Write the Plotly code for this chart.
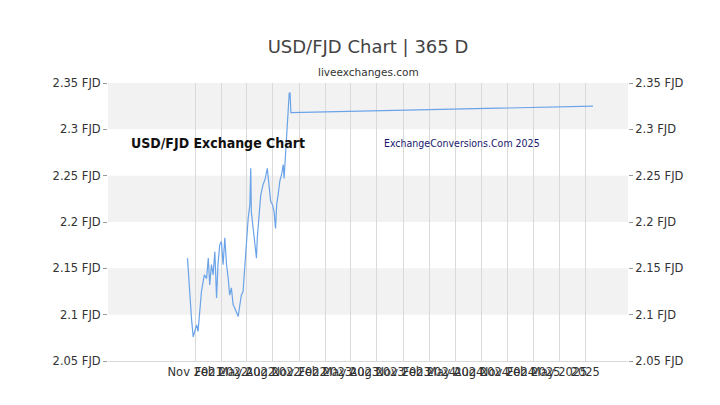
import plotly.graph_objects as go

dates = ["2021-10-05", "2021-10-13", "2021-10-19", "2021-10-25", "2021-11-06", "2021-11-11",
         "2021-11-17", "2021-11-23", "2021-12-03", "2021-12-11", "2021-12-17", "2021-12-22",
         "2021-12-28", "2022-01-03", "2022-01-09", "2022-01-15", "2022-01-20", "2022-01-26",
         "2022-02-01", "2022-02-07", "2022-02-13", "2022-02-19", "2022-02-25", "2022-03-02",
         "2022-03-08", "2022-03-14", "2022-03-20", "2022-03-26", "2022-04-01", "2022-04-07",
         "2022-04-12", "2022-04-18", "2022-04-24", "2022-04-30", "2022-05-06", "2022-05-12",
         "2022-05-15", "2022-05-17", "2022-05-23", "2022-05-29", "2022-06-04", "2022-06-07",
         "2022-06-12", "2022-06-19", "2022-06-27", "2022-07-05", "2022-07-12", "2022-07-17",
         "2022-07-24", "2022-07-30", "2022-08-05", "2022-08-10", "2022-08-14", "2022-08-19",
         "2022-08-25", "2022-08-31", "2022-09-06", "2022-09-09", "2022-09-14", "2022-09-17",
         "2022-09-23", "2022-09-27", "2022-09-30", "2022-10-03", "2025-08-28"]
rates = [2.161, 2.118, 2.096, 2.076, 2.089, 2.082, 2.107, 2.125, 2.143, 2.139, 2.161, 2.132,
         2.154, 2.143, 2.168, 2.118, 2.154, 2.175, 2.179, 2.154, 2.183, 2.154, 2.139, 2.121,
         2.129, 2.111, 2.107, 2.103, 2.098, 2.111, 2.121, 2.125, 2.154, 2.186, 2.204, 2.219,
         2.258, 2.211, 2.193, 2.175, 2.161, 2.183, 2.204, 2.229, 2.240, 2.247, 2.258, 2.240,
         2.222, 2.219, 2.211, 2.193, 2.219, 2.229, 2.244, 2.251, 2.262, 2.247, 2.274, 2.296,
         2.318, 2.339, 2.339, 2.318, 2.325]

tick_dates = ["2021-11-01", "2022-02-01", "2022-05-01", "2022-08-01", "2022-11-01",
              "2023-02-01", "2023-05-01", "2023-08-01", "2023-11-01", "2024-02-01",
              "2024-05-01", "2024-08-01", "2024-11-01", "2025-02-01", "2025-05-01",
              "2025-08-01"]
tick_text = ["Nov 2021", "Feb 2022", "May 2022", "Aug 2022", "Nov 2022", "Feb 2023",
             "May 2023", "Aug 2023", "Nov 2023", "Feb 2024", "May 2024", "Aug 2024",
             "Nov 2024", "Feb 2025", "May 2025", "2025"]
y_ticks = [2.05, 2.1, 2.15, 2.2, 2.25, 2.3, 2.35]
y_text = ["2.05 FJD", "2.1 FJD", "2.15 FJD", "2.2 FJD", "2.25 FJD", "2.3 FJD", "2.35 FJD"]
bands = [(2.1, 2.15), (2.2, 2.25), (2.3, 2.35)]

fig = go.Figure()
fig.add_trace(go.Scatter(x=dates, y=rates, mode="lines",
                         line=dict(color="#6aa3e8", width=1.2), showlegend=False))
fig.add_trace(go.Scatter(x=dates, y=rates, yaxis="y2", mode="lines",
                         line=dict(width=0), opacity=0, showlegend=False, hoverinfo="skip"))

for lo, hi in bands:
    fig.add_shape(type="rect", xref="paper", yref="y", x0=0, x1=1, y0=lo, y1=hi,
                  fillcolor="#f2f2f2", line_width=0, layer="below")

axis_font = dict(family="DejaVu Sans", size=11.5, color="#333")
yax = dict(range=[2.05, 2.35], tickvals=y_ticks, ticktext=y_text, showgrid=False,
           zeroline=False, ticks="outside", ticklen=4, tickcolor="#999", tickfont=axis_font,
           automargin=False)
fig.update_layout(
    width=720, height=405, plot_bgcolor="white", paper_bgcolor="white",
    margin=dict(l=100, r=100, t=75, b=52),
    title=dict(text="USD/FJD Chart | 365 D", x=0.5, y=0.905, xanchor="center",
               yanchor="middle", automargin=False,
               font=dict(family="DejaVu Sans", size=18, color="#444")),
    xaxis=dict(type="date", range=["2020-12-30", "2025-12-29"], tickvals=tick_dates,
               ticktext=tick_text, tickangle=0, showgrid=True, gridcolor="#d9d9d9",
               showline=True, linecolor="#d9d9d9", tickfont=axis_font, ticks="",
               automargin=False),
    yaxis=yax,
    yaxis2=dict(yax, overlaying="y", side="right", matches="y"),
    annotations=[
        dict(text="liveexchanges.com", xref="paper", yref="paper", x=0.5, y=1.04,
             yanchor="middle", showarrow=False,
             font=dict(family="DejaVu Sans", size=10.5, color="#333")),
        dict(text="<b>USD/FJD Exchange Chart</b>", xref="paper", yref="paper", x=0.04,
             y=0.785, xanchor="left", yanchor="middle", showarrow=False,
             font=dict(family="DejaVu Sans Condensed", size=14, color="#111")),
        dict(text="ExchangeConversions.Com 2025", xref="paper", yref="paper", x=0.68,
             y=0.785, xanchor="center", yanchor="middle", showarrow=False,
             font=dict(family="DejaVu Sans Condensed", size=10.5, color="#1a1a6e")),
    ],
)
fig.write_html("out.html")
